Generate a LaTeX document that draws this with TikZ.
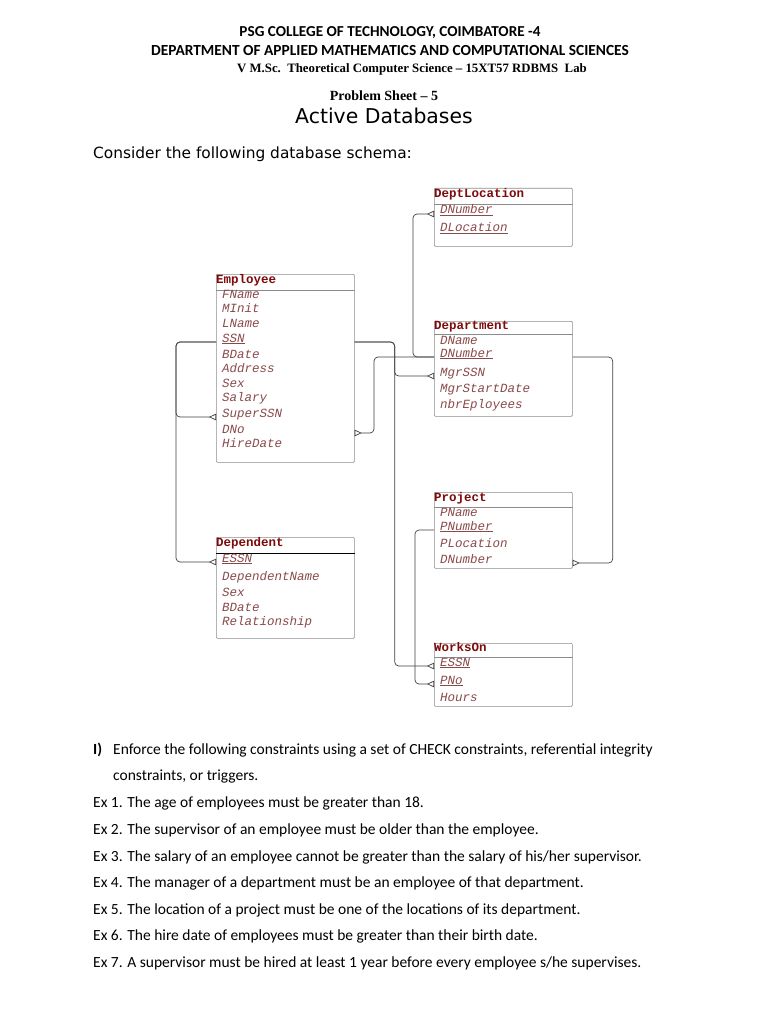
\documentclass[tikz,border=0pt]{standalone}
\usepackage{fontspec}
\setmainfont{Carlito}
\newfontfamily\monofont{Liberation Mono}
\newfontfamily\timesfont{Liberation Serif}
\newfontfamily\dejavufont{DejaVu Sans}
\usepackage{tikz}
\usetikzlibrary{arrows.meta}
\usepackage{xcolor}
\definecolor{hdred}{HTML}{7F0A0A}
\definecolor{attred}{HTML}{8A4A4A}
\definecolor{boxgray}{HTML}{8C8C8C}

\begin{document}
\begin{tikzpicture}[
  x=1pt,y=-1pt,
  tbl/.style={draw=boxgray,line width=0.7pt,rounded corners=1pt,anchor=north west,
              inner sep=0pt,minimum width=138pt},
  sepline/.style={draw=boxgray,line width=0.7pt},
  tblhead/.style={anchor=base west,inner sep=0pt,text=hdred,
                  font=\fontsize{12.5}{14}\monofont\bfseries},
  attr/.style={anchor=base west,inner sep=0pt,text=attred,
               font=\fontsize{12.5}{14}\monofont\itshape},
  link/.style={draw=black!75,line width=0.7pt,rounded corners=4pt},
  fk/.style={link,-{Triangle[open,reversed,length=7pt,width=6.5pt]}},
  txt/.style={anchor=base west,inner sep=0pt,font=\fontsize{15.5}{18}\selectfont}
]
\useasboundingbox (0,0) rectangle (768,1024);
\fill[white] (0,0) rectangle (768,1024);

% heading
\node[anchor=base,inner sep=0pt,font=\fontsize{15.2}{18}\selectfont\bfseries] (college)
  at (390,37) {PSG COLLEGE OF TECHNOLOGY, COIMBATORE -4};
\node[anchor=base,inner sep=0pt,font=\fontsize{15.4}{18}\selectfont\bfseries] (deptname)
  at (390,56) {DEPARTMENT OF APPLIED MATHEMATICS AND COMPUTATIONAL SCIENCES};
\node[anchor=base west,inner sep=0pt,font=\fontsize{12.8}{15}\timesfont\bfseries] (course)
  at (237,73) {V M.Sc.\ \ Theoretical Computer Science – 15XT57 RDBMS\ \ Lab};
\node[anchor=base,inner sep=0pt,font=\fontsize{14}{16}\timesfont\bfseries] (sheet)
  at (384,101) {Problem Sheet – 5};
\node[anchor=base,inner sep=0pt,font=\fontsize{20.4}{24}\dejavufont] (title)
  at (384,124) {Active Databases};
\node[anchor=base west,inner sep=0pt,font=\fontsize{15.4}{18}\dejavufont] (intro)
  at (93,159) {Consider the following database schema:};

% tables
\node[tbl,minimum height=188pt] (emp) at (216,274) {};
\draw[sepline] ([yshift=-16pt]emp.north west) -- ([yshift=-16pt]emp.north east);
\node[tblhead] (emp-h) at (216,283) {Employee};
\node[attr] (emp-fname) at (222,298) {FName};
\node[attr] (emp-minit) at (222,312) {MInit};
\node[attr] (emp-lname) at (222,327) {LName};
\node[attr] (emp-ssn) at (222,342) {\underline{SSN}};
\node[attr] (emp-bdate) at (222,358) {BDate};
\node[attr] (emp-addr) at (222,372) {Address};
\node[attr] (emp-sex) at (222,387) {Sex};
\node[attr] (emp-sal) at (222,401) {Salary};
\node[attr] (emp-super) at (222,417) {SuperSSN};
\node[attr] (emp-dno) at (222,433) {DNo};
\node[attr] (emp-hire) at (222,447) {HireDate};

\node[tbl,minimum height=101pt] (dep) at (216,537) {};
\draw[sepline,draw=black,line width=1pt] ([yshift=-16pt]dep.north west) -- ([yshift=-16pt]dep.north east);
\node[tblhead] (dep-h) at (216,546) {Dependent};
\node[attr] (dep-essn) at (222,562) {\underline{ESSN}};
\node[attr] (dep-name) at (222,580) {DependentName};
\node[attr] (dep-sex) at (222,596) {Sex};
\node[attr] (dep-bdate) at (222,611) {BDate};
\node[attr] (dep-rel) at (222,625) {Relationship};

\node[tbl,minimum height=58pt] (loc) at (434,188) {};
\draw[sepline] ([yshift=-16pt]loc.north west) -- ([yshift=-16pt]loc.north east);
\node[tblhead] (loc-h) at (434,198) {DeptLocation};
\node[attr] (loc-dnum) at (440,214) {\underline{DNumber}};
\node[attr] (loc-dloc) at (440,232) {\underline{DLocation}};

\node[tbl,minimum height=95pt] (dept) at (434,321) {};
\draw[sepline] ([yshift=-13pt]dept.north west) -- ([yshift=-13pt]dept.north east);
\node[tblhead] (dept-h) at (434,329) {Department};
\node[attr] (dept-dname) at (440,344) {DName};
\node[attr] (dept-dnum) at (440,357) {\underline{DNumber}};
\node[attr] (dept-mgr) at (440,376) {MgrSSN};
\node[attr] (dept-start) at (440,392) {MgrStartDate};
\node[attr] (dept-nbr) at (440,408) {nbrEployees};

\node[tbl,minimum height=76pt] (proj) at (434,492) {};
\draw[sepline] ([yshift=-15pt]proj.north west) -- ([yshift=-15pt]proj.north east);
\node[tblhead] (proj-h) at (434,501) {Project};
\node[attr] (proj-pname) at (440,516) {PName};
\node[attr] (proj-pnum) at (440,530) {\underline{PNumber}};
\node[attr] (proj-ploc) at (440,547) {PLocation};
\node[attr] (proj-dnum) at (440,563) {DNumber};

\node[tbl,minimum height=63pt] (works) at (434,643) {};
\draw[sepline] ([yshift=-14pt]works.north west) -- ([yshift=-14pt]works.north east);
\node[tblhead] (works-h) at (434,651) {WorksOn};
\node[attr] (works-essn) at (440,666) {\underline{ESSN}};
\node[attr] (works-pno) at (440,684) {\underline{PNo}};
\node[attr] (works-hours) at (440,701) {Hours};

% foreign keys
\draw[fk] (emp.west |- emp-ssn.base) -- ++(-40,0) |- (emp.west |- emp-super.base);
\draw[fk] (emp.west |- emp-ssn.base) -- ++(-40,0) |- (dep.west |- dep-essn.base);
\draw[fk] (emp.east |- emp-ssn.base) -- ++(40,0) |- (dept.west |- dept-mgr.base);
\draw[fk] (emp.east |- emp-ssn.base) -- ++(40,0) |- (works.west |- works-essn.base);
\draw[fk] (dept.west |- dept-dnum.base) -- ++(-60,0) |- (emp.east |- emp-dno.base);
\draw[fk] (dept.west |- dept-dnum.base) -- ++(-21,0) |- (loc.west |- loc-dnum.base);
\draw[fk] (dept.east |- dept-dnum.base) -- ++(40,0) |- (proj.east |- proj-dnum.base);
\draw[fk] (proj.west |- proj-pnum.base) -- ++(-19,0) |- (works.west |- works-pno.base);

% exercises
\node[txt,font=\fontsize{15.5}{18}\selectfont\bfseries] (part) at (93,754) {I)};
\node[txt] (enforce) at (113,754) {Enforce the following constraints using a set of CHECK constraints, referential integrity};
\node[txt] (enforce2) at (113,780) {constraints, or triggers.};
\node[txt] (ex1) at (93,807) {Ex 1. The age of employees must be greater than 18.};
\node[txt] (ex2) at (93,834) {Ex 2. The supervisor of an employee must be older than the employee.};
\node[txt] (ex3) at (93,861) {Ex 3. The salary of an employee cannot be greater than the salary of his/her supervisor.};
\node[txt] (ex4) at (93,887) {Ex 4. The manager of a department must be an employee of that department.};
\node[txt] (ex5) at (93,914) {Ex 5. The location of a project must be one of the locations of its department.};
\node[txt] (ex6) at (93,940) {Ex 6. The hire date of employees must be greater than their birth date.};
\node[txt] (ex7) at (93,967) {Ex 7. A supervisor must be hired at least 1 year before every employee s/he supervises.};
\end{tikzpicture}
\end{document}
